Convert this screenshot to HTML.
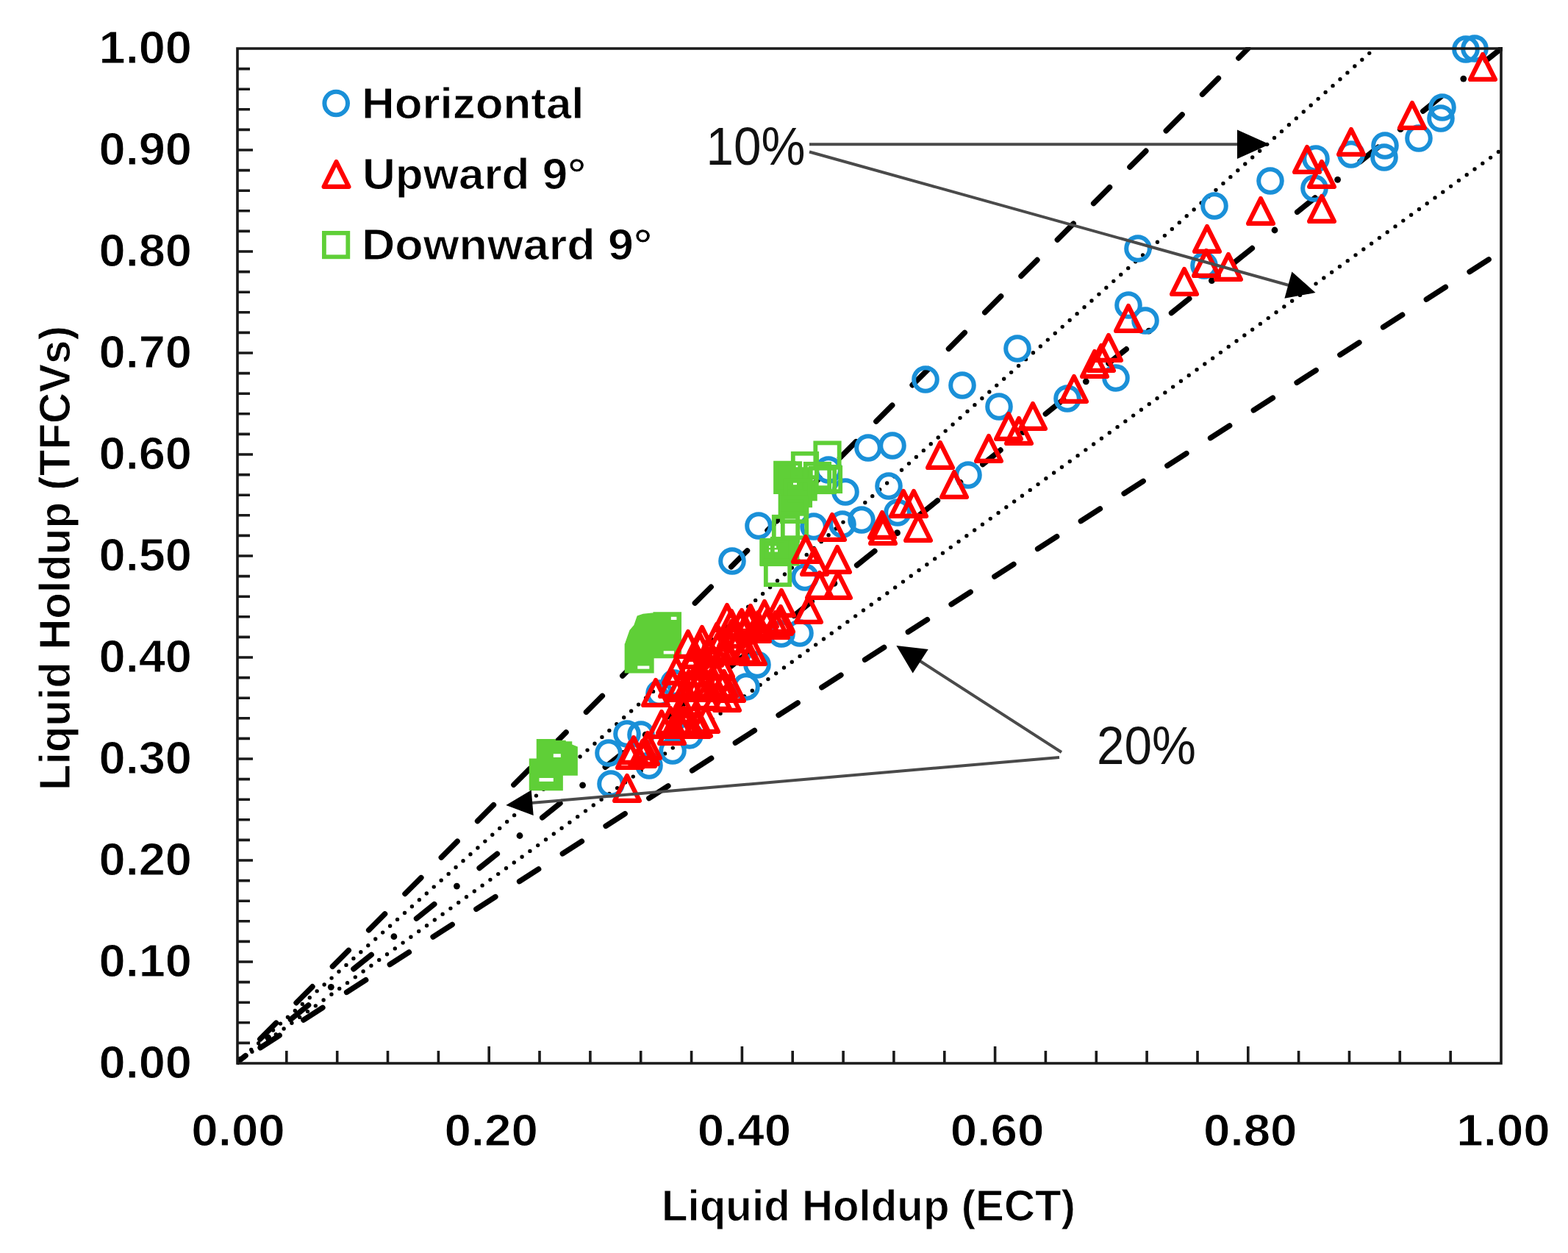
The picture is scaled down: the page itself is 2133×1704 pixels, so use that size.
<!DOCTYPE html>
<html><head><meta charset="utf-8"><title>Liquid Holdup</title>
<style>html,body{margin:0;padding:0;background:#fff;}svg{display:block;}text{font-family:"Liberation Sans",Arial,sans-serif;}</style></head><body>
<div id="w">
<svg width="2133" height="1704" viewBox="0 0 2133 1704">
<rect width="2133" height="1704" fill="#fff"/>
<defs><clipPath id="pc"><rect x="323" y="64" width="1721" height="1384"/></clipPath></defs>
<g clip-path="url(#pc)" fill="none" stroke="#000" stroke-linecap="round">
<path d="M321.0 1446.0L1697.8000000000002 66.0" stroke-width="7.4" stroke-dasharray="31 38.8" stroke-dashoffset="23.4"/>
<path d="M321.0 1446.0L2042.0 342.0" stroke-width="7.4" stroke-dasharray="31 38.8" stroke-dashoffset="30.5"/>
<path d="M321.0 1446.0L2042.0 66.0" stroke-width="7.4" stroke-dasharray="31.1 78.6" stroke-dashoffset="14.4"/>
<path d="M321.0 1446.0L1869.9 66.0" stroke-width="5.4" stroke-dasharray="0 13.315" stroke-dashoffset="12.2"/>
<path d="M321.0 1446.0L2042.0 204.0" stroke-width="5.4" stroke-dasharray="0 13.318" stroke-dashoffset="12.92"/>
<g fill="#000" stroke="none"><circle cx="364.7" cy="1411.0" r="4.4"/><circle cx="450.3" cy="1342.3" r="4.4"/><circle cx="535.9" cy="1273.7" r="4.4"/><circle cx="621.4" cy="1205.1" r="4.4"/><circle cx="707.0" cy="1136.5" r="4.4"/><circle cx="792.6" cy="1067.8" r="4.4"/><circle cx="878.2" cy="999.2" r="4.4"/><circle cx="963.8" cy="930.6" r="4.4"/><circle cx="1049.4" cy="862.0" r="4.4"/><circle cx="1134.9" cy="793.3" r="4.4"/><circle cx="1220.5" cy="724.7" r="4.4"/><circle cx="1306.1" cy="656.1" r="4.4"/><circle cx="1391.7" cy="587.5" r="4.4"/><circle cx="1477.3" cy="518.8" r="4.4"/><circle cx="1562.9" cy="450.2" r="4.4"/><circle cx="1648.4" cy="381.6" r="4.4"/><circle cx="1734.0" cy="313.0" r="4.4"/><circle cx="1819.6" cy="244.3" r="4.4"/><circle cx="1905.2" cy="175.7" r="4.4"/><circle cx="1990.8" cy="107.1" r="4.4"/></g>
</g>
<g fill="none" stroke="#1a90d8" stroke-width="6">
<circle cx="1994" cy="67" r="15.8"/>
<circle cx="2006" cy="66" r="15.8"/>
<circle cx="1962" cy="146" r="15.8"/>
<circle cx="1960" cy="161" r="15.8"/>
<circle cx="1930" cy="188" r="15.8"/>
<circle cx="1884" cy="198" r="15.8"/>
<circle cx="1883" cy="214" r="15.8"/>
<circle cx="1838" cy="210" r="15.8"/>
<circle cx="1790" cy="216" r="15.8"/>
<circle cx="1788" cy="256" r="15.8"/>
<circle cx="1728" cy="246" r="15.8"/>
<circle cx="1652" cy="280" r="15.8"/>
<circle cx="1638" cy="361" r="15.8"/>
<circle cx="1548" cy="338" r="15.8"/>
<circle cx="1535" cy="415" r="15.8"/>
<circle cx="1558" cy="436" r="15.8"/>
<circle cx="1518" cy="514" r="15.8"/>
<circle cx="1452" cy="542" r="15.8"/>
<circle cx="1384" cy="474" r="15.8"/>
<circle cx="1259" cy="516" r="15.8"/>
<circle cx="1309" cy="524" r="15.8"/>
<circle cx="1359" cy="553" r="15.8"/>
<circle cx="1181" cy="609" r="15.8"/>
<circle cx="1214" cy="606" r="15.8"/>
<circle cx="1150" cy="669" r="15.8"/>
<circle cx="1209" cy="661" r="15.8"/>
<circle cx="1317" cy="646" r="15.8"/>
<circle cx="1172" cy="707" r="15.8"/>
<circle cx="1221" cy="697" r="15.8"/>
<circle cx="1107" cy="716" r="15.8"/>
<circle cx="1146" cy="713" r="15.8"/>
<circle cx="1127" cy="639" r="15.8"/>
<circle cx="1032" cy="715" r="15.8"/>
<circle cx="996" cy="763" r="15.8"/>
<circle cx="1095" cy="785" r="15.8"/>
<circle cx="1063" cy="862" r="15.8"/>
<circle cx="1088" cy="861" r="15.8"/>
<circle cx="1030" cy="904" r="15.8"/>
<circle cx="1015" cy="934" r="15.8"/>
<circle cx="917" cy="929" r="15.8"/>
<circle cx="897" cy="943" r="15.8"/>
<circle cx="938" cy="1000" r="15.8"/>
<circle cx="915" cy="1021" r="15.8"/>
<circle cx="872" cy="999" r="15.8"/>
<circle cx="853" cy="998" r="15.8"/>
<circle cx="828" cy="1024" r="15.8"/>
<circle cx="883" cy="1041" r="15.8"/>
<circle cx="831" cy="1066" r="15.8"/>
</g>
<g fill="#5fcf37" stroke="#5fcf37" stroke-width="1.5" stroke-linejoin="miter">
<path d="M730.5 1005.8L755.2 1005.8L755.2 1007.6L769 1007.6L769 1009L777.5 1009L777.5 1013L785.1 1016L785.1 1054L765.1 1054L765.1 1074.5L720.5 1074.5L720.5 1032.3L730.5 1032.3Z"/>
<path d="M889.2 832.9L926.3 832.9L926.3 894.5L888.9 894.5L888.9 914.8L850.4 914.8L850.4 876L851.2 874.3L857.1 857.4L863 850.6L867.3 838L874.9 835.4L889.2 834Z"/>
<path d="M1052.9 627.4L1082 627.4L1082 636L1100 636L1100 654L1111 654L1111 680.4L1104.3 680.4L1104.3 689.6L1099.6 689.6L1099.6 700L1059.4 700L1059.4 671.3L1052.9 671.3Z"/>
<path d="M1034 734L1086.6 734L1086.6 768.7L1034 768.7Z"/>
</g>
<g fill="#fff">
<rect x="752.8" y="1025.2" width="10" height="4.7"/>
<rect x="733.5" y="1058" width="19.3" height="4.8"/>
<rect x="912.8" y="838.8" width="7.6" height="4.2"/>
<rect x="902.7" y="885.2" width="14.3" height="4.3"/>
<rect x="867.3" y="905.5" width="16" height="4.2"/>
<rect x="1079" y="654.8" width="5" height="4.5"/>
<rect x="1095" y="626.5" width="10" height="7"/>
<rect x="1081" y="620" width="5" height="7"/>
<rect x="1056" y="712.5" width="27" height="4.5"/>
<rect x="1056" y="722.5" width="27" height="8"/>
<rect x="1046" y="742.5" width="10" height="2.5"/>
<rect x="1046" y="747.5" width="12" height="3"/>
</g>
<g fill="none" stroke="#5fcf37" stroke-width="5.8">
<rect x="1109.3" y="602.4" width="32.4" height="32.4"/>
<rect x="1078.8" y="616.8" width="32.4" height="32.4"/>
<rect x="1055.8" y="630.2" width="32.4" height="32.4"/>
<rect x="1102.8" y="636.8" width="32.4" height="32.4"/>
<rect x="1095.8" y="630.8" width="32.4" height="32.4"/>
<rect x="1110.8" y="635.8" width="32.4" height="32.4"/>
<rect x="1068.8" y="653.8" width="32.4" height="32.4"/>
<rect x="1063.8" y="676.8" width="32.4" height="32.4"/>
<rect x="1052.8" y="702.8" width="32.4" height="32.4"/>
<rect x="1064.8" y="698.8" width="32.4" height="32.4"/>
<rect x="1036.8" y="734.8" width="32.4" height="32.4"/>
<rect x="1050.8" y="732.8" width="32.4" height="32.4"/>
<rect x="1041.8" y="762.8" width="32.4" height="32.4"/>
</g>
<g fill="none" stroke="#ff0000" stroke-width="6.2" stroke-linejoin="round">
<path d="M2017.0 74.1L2033.9 107.9L2000.1 107.9Z"/>
<path d="M1921.0 140.1L1937.9 173.9L1904.1 173.9Z"/>
<path d="M1838.0 176.1L1854.9 209.9L1821.1 209.9Z"/>
<path d="M1778.0 200.1L1794.9 233.9L1761.1 233.9Z"/>
<path d="M1798.0 220.1L1814.9 253.9L1781.1 253.9Z"/>
<path d="M1798.0 267.1L1814.9 300.9L1781.1 300.9Z"/>
<path d="M1715.0 270.1L1731.9 303.9L1698.1 303.9Z"/>
<path d="M1642.0 308.1L1658.9 341.9L1625.1 341.9Z"/>
<path d="M1641.0 341.1L1657.9 374.9L1624.1 374.9Z"/>
<path d="M1671.0 346.1L1687.9 379.9L1654.1 379.9Z"/>
<path d="M1611.0 366.1L1627.9 399.9L1594.1 399.9Z"/>
<path d="M1535.0 416.1L1551.9 449.9L1518.1 449.9Z"/>
<path d="M1508.0 456.1L1524.9 489.9L1491.1 489.9Z"/>
<path d="M1489.0 478.1L1505.9 511.9L1472.1 511.9Z"/>
<path d="M1498.0 470.1L1514.9 503.9L1481.1 503.9Z"/>
<path d="M1461.0 512.1L1477.9 545.9L1444.1 545.9Z"/>
<path d="M1405.0 549.1L1421.9 582.9L1388.1 582.9Z"/>
<path d="M1372.0 563.1L1388.9 596.9L1355.1 596.9Z"/>
<path d="M1386.0 569.1L1402.9 602.9L1369.1 602.9Z"/>
<path d="M1345.0 593.1L1361.9 626.9L1328.1 626.9Z"/>
<path d="M1279.0 602.1L1295.9 635.9L1262.1 635.9Z"/>
<path d="M1298.0 642.1L1314.9 675.9L1281.1 675.9Z"/>
<path d="M1229.0 668.1L1245.9 701.9L1212.1 701.9Z"/>
<path d="M1243.0 668.1L1259.9 701.9L1226.1 701.9Z"/>
<path d="M1249.0 701.1L1265.9 734.9L1232.1 734.9Z"/>
<path d="M1200.0 697.1L1216.9 730.9L1183.1 730.9Z"/>
<path d="M1201.0 705.1L1217.9 738.9L1184.1 738.9Z"/>
<path d="M1132.0 700.1L1148.9 733.9L1115.1 733.9Z"/>
<path d="M1096.0 730.1L1112.9 763.9L1079.1 763.9Z"/>
<path d="M1108.0 747.1L1124.9 780.9L1091.1 780.9Z"/>
<path d="M1139.0 744.1L1155.9 777.9L1122.1 777.9Z"/>
<path d="M1115.0 779.1L1131.9 812.9L1098.1 812.9Z"/>
<path d="M1140.0 779.1L1156.9 812.9L1123.1 812.9Z"/>
<path d="M1100.0 812.1L1116.9 845.9L1083.1 845.9Z"/>
<path d="M1063.0 803.1L1079.9 836.9L1046.1 836.9Z"/>
<path d="M1060.0 828.1L1076.9 861.9L1043.1 861.9Z"/>
<path d="M989.0 823.1L1005.9 856.9L972.1 856.9Z"/>
<path d="M1009.0 830.1L1025.9 863.9L992.1 863.9Z"/>
<path d="M1021.0 824.1L1037.9 857.9L1004.1 857.9Z"/>
<path d="M1040.0 818.1L1056.9 851.9L1023.1 851.9Z"/>
<path d="M1030.0 838.1L1046.9 871.9L1013.1 871.9Z"/>
<path d="M936.0 859.1L952.9 892.9L919.1 892.9Z"/>
<path d="M955.0 853.1L971.9 886.9L938.1 886.9Z"/>
<path d="M975.0 849.1L991.9 882.9L958.1 882.9Z"/>
<path d="M995.0 845.1L1011.9 878.9L978.1 878.9Z"/>
<path d="M1015.0 867.1L1031.9 900.9L998.1 900.9Z"/>
<path d="M1000.0 863.1L1016.9 896.9L983.1 896.9Z"/>
<path d="M985.0 867.1L1001.9 900.9L968.1 900.9Z"/>
<path d="M945.0 873.1L961.9 906.9L928.1 906.9Z"/>
<path d="M965.0 871.1L981.9 904.9L948.1 904.9Z"/>
<path d="M940.0 888.1L956.9 921.9L923.1 921.9Z"/>
<path d="M960.0 888.1L976.9 921.9L943.1 921.9Z"/>
<path d="M980.0 886.1L996.9 919.9L963.1 919.9Z"/>
<path d="M920.0 895.1L936.9 928.9L903.1 928.9Z"/>
<path d="M950.0 897.1L966.9 930.9L933.1 930.9Z"/>
<path d="M975.0 902.1L991.9 935.9L958.1 935.9Z"/>
<path d="M892.0 925.1L908.9 958.9L875.1 958.9Z"/>
<path d="M935.0 930.1L951.9 963.9L918.1 963.9Z"/>
<path d="M960.0 929.1L976.9 962.9L943.1 962.9Z"/>
<path d="M976.0 930.1L992.9 963.9L959.1 963.9Z"/>
<path d="M989.0 932.1L1005.9 965.9L972.1 965.9Z"/>
<path d="M915.0 913.1L931.9 946.9L898.1 946.9Z"/>
<path d="M950.0 913.1L966.9 946.9L933.1 946.9Z"/>
<path d="M930.0 948.1L946.9 981.9L913.1 981.9Z"/>
<path d="M914.0 977.1L930.9 1010.9L897.1 1010.9Z"/>
<path d="M950.0 967.1L966.9 1000.9L933.1 1000.9Z"/>
<path d="M930.0 963.1L946.9 996.9L913.1 996.9Z"/>
<path d="M881.0 997.1L897.9 1030.9L864.1 1030.9Z"/>
<path d="M857.0 1010.1L873.9 1043.9L840.1 1043.9Z"/>
<path d="M878.0 1005.1L894.9 1038.9L861.1 1038.9Z"/>
<path d="M853.0 1055.1L869.9 1088.9L836.1 1088.9Z"/>
<path d="M995.0 831.1L1011.9 864.9L978.1 864.9Z"/>
<path d="M1007.0 833.1L1023.9 866.9L990.1 866.9Z"/>
<path d="M1019.0 831.1L1035.9 864.9L1002.1 864.9Z"/>
<path d="M1031.0 833.1L1047.9 866.9L1014.1 866.9Z"/>
<path d="M1043.0 831.1L1059.9 864.9L1026.1 864.9Z"/>
<path d="M1055.0 833.1L1071.9 866.9L1038.1 866.9Z"/>
<path d="M1062.0 825.1L1078.9 858.9L1045.1 858.9Z"/>
<path d="M952.0 863.1L968.9 896.9L935.1 896.9Z"/>
<path d="M964.0 868.1L980.9 901.9L947.1 901.9Z"/>
<path d="M976.0 863.1L992.9 896.9L959.1 896.9Z"/>
<path d="M988.0 868.1L1004.9 901.9L971.1 901.9Z"/>
<path d="M1000.0 865.1L1016.9 898.9L983.1 898.9Z"/>
<path d="M1012.0 868.1L1028.9 901.9L995.1 901.9Z"/>
<path d="M1024.0 869.1L1040.9 902.9L1007.1 902.9Z"/>
<path d="M925.0 918.1L941.9 951.9L908.1 951.9Z"/>
<path d="M937.0 913.1L953.9 946.9L920.1 946.9Z"/>
<path d="M949.0 918.1L965.9 951.9L932.1 951.9Z"/>
<path d="M961.0 913.1L977.9 946.9L944.1 946.9Z"/>
<path d="M973.0 918.1L989.9 951.9L956.1 951.9Z"/>
<path d="M985.0 913.1L1001.9 946.9L968.1 946.9Z"/>
<path d="M995.0 919.1L1011.9 952.9L978.1 952.9Z"/>
<path d="M900.0 968.1L916.9 1001.9L883.1 1001.9Z"/>
<path d="M912.0 963.1L928.9 996.9L895.1 996.9Z"/>
<path d="M924.0 968.1L940.9 1001.9L907.1 1001.9Z"/>
<path d="M936.0 963.1L952.9 996.9L919.1 996.9Z"/>
<path d="M948.0 968.1L964.9 1001.9L931.1 1001.9Z"/>
<path d="M960.0 961.1L976.9 994.9L943.1 994.9Z"/>
<path d="M862.0 1003.1L878.9 1036.9L845.1 1036.9Z"/>
<path d="M874.0 1008.1L890.9 1041.9L857.1 1041.9Z"/>
</g>
<g stroke="#1a1a1a" stroke-width="3.6" fill="none">
<path d="M323.0 66.0H2042.0V1446.0H323.0Z" stroke-linejoin="miter"/>
<path d="M323.0 1418.4h17M323.0 1390.8h17M323.0 1363.2h17M323.0 1335.6h17M323.0 1308.0h21M323.0 1280.4h17M323.0 1252.8h17M323.0 1225.2h17M323.0 1197.6h17M323.0 1170.0h21M323.0 1142.4h17M323.0 1114.8h17M323.0 1087.2h17M323.0 1059.6h17M323.0 1032.0h21M323.0 1004.4h17M323.0 976.8h17M323.0 949.2h17M323.0 921.6h17M323.0 894.0h21M323.0 866.4h17M323.0 838.8h17M323.0 811.2h17M323.0 783.6h17M323.0 756.0h21M323.0 728.4h17M323.0 700.8h17M323.0 673.2h17M323.0 645.6h17M323.0 618.0h21M323.0 590.4h17M323.0 562.8h17M323.0 535.2h17M323.0 507.6h17M323.0 480.0h21M323.0 452.4h17M323.0 424.8h17M323.0 397.2h17M323.0 369.6h17M323.0 342.0h21M323.0 314.4h17M323.0 286.8h17M323.0 259.2h17M323.0 231.6h17M323.0 204.0h21M323.0 176.4h17M323.0 148.8h17M323.0 121.2h17M323.0 93.6h17M389.8 1446.0v-17M458.7 1446.0v-17M527.5 1446.0v-17M596.4 1446.0v-17M665.2 1446.0v-23M734.0 1446.0v-17M802.9 1446.0v-17M871.7 1446.0v-17M940.6 1446.0v-17M1009.4 1446.0v-23M1078.2 1446.0v-17M1147.1 1446.0v-17M1215.9 1446.0v-17M1284.8 1446.0v-17M1353.6 1446.0v-23M1422.4 1446.0v-17M1491.3 1446.0v-17M1560.1 1446.0v-17M1629.0 1446.0v-17M1697.8 1446.0v-23M1766.6 1446.0v-17M1835.5 1446.0v-17M1904.3 1446.0v-17M1973.2 1446.0v-17"/>
</g>
<path d="M1101 196.2L1685.0 196.2" stroke="#4a4a4a" stroke-width="4" fill="none"/><path d="M1727.0 196.2L1683.0 215.9L1683.0 176.5Z" fill="#000"/>
<path d="M1101 206.5L1754.3 388.2" stroke="#4a4a4a" stroke-width="4" fill="none"/><path d="M1789.5 398.0L1747.4 405.8L1757.4 369.6Z" fill="#000"/>
<path d="M1444 1023L1250.5 898.2" stroke="#4a4a4a" stroke-width="4" fill="none"/><path d="M1219.4 878.1L1262.7 882.9L1241.7 915.5Z" fill="#000"/>
<path d="M1441 1030L722.2 1092.0" stroke="#4a4a4a" stroke-width="4" fill="none"/><path d="M688.3 1094.9L722.7 1074.6L725.7 1109.0Z" fill="#000"/>
<g font-weight="bold" fill="#000" font-size="60" stroke="#fff" stroke-width="1.0">
<text x="261" y="1466.4" font-size="63.5" text-anchor="end" textLength="126.5" lengthAdjust="spacingAndGlyphs">0.00</text>
<text x="261" y="1328.4" font-size="63.5" text-anchor="end" textLength="126.5" lengthAdjust="spacingAndGlyphs">0.10</text>
<text x="261" y="1190.4" font-size="63.5" text-anchor="end" textLength="126.5" lengthAdjust="spacingAndGlyphs">0.20</text>
<text x="261" y="1052.4" font-size="63.5" text-anchor="end" textLength="126.5" lengthAdjust="spacingAndGlyphs">0.30</text>
<text x="261" y="914.4" font-size="63.5" text-anchor="end" textLength="126.5" lengthAdjust="spacingAndGlyphs">0.40</text>
<text x="261" y="776.4" font-size="63.5" text-anchor="end" textLength="126.5" lengthAdjust="spacingAndGlyphs">0.50</text>
<text x="261" y="638.4" font-size="63.5" text-anchor="end" textLength="126.5" lengthAdjust="spacingAndGlyphs">0.60</text>
<text x="261" y="500.4" font-size="63.5" text-anchor="end" textLength="126.5" lengthAdjust="spacingAndGlyphs">0.70</text>
<text x="261" y="362.4" font-size="63.5" text-anchor="end" textLength="126.5" lengthAdjust="spacingAndGlyphs">0.80</text>
<text x="261" y="224.4" font-size="63.5" text-anchor="end" textLength="126.5" lengthAdjust="spacingAndGlyphs">0.90</text>
<text x="261" y="86.4" font-size="63.5" text-anchor="end" textLength="126.5" lengthAdjust="spacingAndGlyphs">1.00</text>
<text x="324.0" y="1557.5" font-size="61.5" text-anchor="middle" textLength="127.5" lengthAdjust="spacingAndGlyphs">0.00</text>
<text x="668.2" y="1557.5" font-size="61.5" text-anchor="middle" textLength="127.5" lengthAdjust="spacingAndGlyphs">0.20</text>
<text x="1012.4" y="1557.5" font-size="61.5" text-anchor="middle" textLength="127.5" lengthAdjust="spacingAndGlyphs">0.40</text>
<text x="1356.6" y="1557.5" font-size="61.5" text-anchor="middle" textLength="127.5" lengthAdjust="spacingAndGlyphs">0.60</text>
<text x="1700.8" y="1557.5" font-size="61.5" text-anchor="middle" textLength="127.5" lengthAdjust="spacingAndGlyphs">0.80</text>
<text x="2045.0" y="1557.5" font-size="61.5" text-anchor="middle" textLength="127.5" lengthAdjust="spacingAndGlyphs">1.00</text>
<text x="1181.5" y="1660" text-anchor="middle" textLength="563" lengthAdjust="spacingAndGlyphs">Liquid Holdup (ECT)</text>
<text transform="translate(95 759) rotate(-90)" x="0" y="0" text-anchor="middle" textLength="632" lengthAdjust="spacingAndGlyphs">Liquid Holdup (TFCVs)</text>
<text x="492" y="161" textLength="302.5" lengthAdjust="spacingAndGlyphs">Horizontal</text>
<text x="493" y="256.5" textLength="304" lengthAdjust="spacingAndGlyphs">Upward 9°</text>
<text x="492" y="353.3" textLength="395" lengthAdjust="spacingAndGlyphs">Downward 9°</text>
</g>
<g fill="#111" font-size="72.3">
<text x="960.5" y="223.8" textLength="135" lengthAdjust="spacingAndGlyphs">10%</text>
<text x="1492" y="1039" textLength="135" lengthAdjust="spacingAndGlyphs">20%</text>
</g>
<circle cx="457.2" cy="140.5" r="15.8" fill="none" stroke="#1a90d8" stroke-width="6"/>
<g fill="none" stroke="#ff0000" stroke-width="6.2" stroke-linejoin="round"><path d="M457.5 220.1L474.4 253.9L440.6 253.9Z"/></g>
<g fill="none" stroke="#5fcf37" stroke-width="5.8"><rect x="440.9" y="316.9" width="32.4" height="32.4"/></g>
</svg></div></body></html>
